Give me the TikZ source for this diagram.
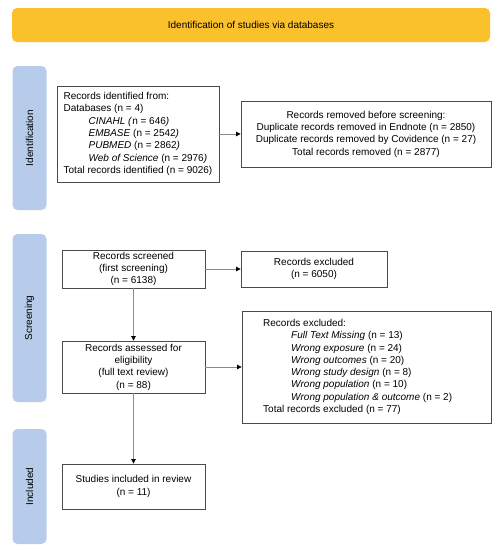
\documentclass[tikz,border=0pt]{standalone}
\usepackage{fontspec}
\setmainfont{Liberation Sans}
\usetikzlibrary{arrows.meta}
\definecolor{gold}{HTML}{FBC12D}
\definecolor{sideblue}{HTML}{B6CCEA}
\definecolor{boxline}{HTML}{4A4A4A}
\definecolor{arrline}{HTML}{8C8C8C}
\begin{document}
\begin{tikzpicture}[x=1pt,y=-1pt,
  every node/.style={font=\fontsize{10}{12.3}\selectfont},
  flowbox/.style={draw=boxline,line width=0.8pt,fill=white,inner sep=0pt,align=center},
  sidebar/.style={fill=sideblue,rounded corners=5pt,inner sep=0pt},
  flowarrow/.style={draw=arrline,line width=0.7pt,-{Triangle[length=4.5pt,width=4.5pt,fill=black,color=black]}}
]
\useasboundingbox (0,0) rectangle (500,550);
% title
\node[fill=gold,rounded corners=5pt,minimum width=478pt,minimum height=34pt,inner sep=0pt] (title) at (251,25) {Identification of studies via databases};
% side bars
\node[sidebar,minimum width=34pt,minimum height=144pt] (sideid) at (29.5,138) {};
\node[rotate=90] (sideidtext) at (sideid.center) {Identification};
\node[sidebar,minimum width=34pt,minimum height=168pt] (sidescr) at (29.5,318) {};
\node[rotate=90] (sidescrtext) at (sidescr.center) {Screening};
\node[sidebar,minimum width=34pt,minimum height=115pt] (sideinc) at (29.5,486.5) {};
\node[rotate=90] (sideinctext) at (sideinc.center) {Included};
% boxes
\node[flowbox,minimum width=162pt,minimum height=96pt] (ident) at (138,134) {%
\begin{tabular}{@{}l@{}}
Records identified from:\\
Databases (n = 4)\\
\hspace*{25pt}\textit{CINAHL (}n = 646\textit{)}\\
\hspace*{25pt}\textit{EMBASE} (n = 2542\textit{)}\\
\hspace*{25pt}\textit{PUBMED} (n = 2862\textit{)}\\
\hspace*{25pt}\textit{Web of Science} (n = 2976\textit{)}\\
Total records identified (n = 9026)
\end{tabular}};
\node[flowbox,minimum width=250pt,minimum height=66pt] (removed) at (366,134) {Records removed before screening:\\
Duplicate records removed in Endnote (n = 2850)\\
Duplicate records removed by Covidence (n = 27)\\
Total records removed (n = 2877)};
\node[flowbox,minimum width=143pt,minimum height=38pt] (screened) at (133.5,269) {Records screened\\(first screening)\\(n = 6138)};
\node[flowbox,minimum width=146pt,minimum height=36pt] (excl1) at (314,269) {Records excluded\\(n = 6050)};
\node[flowbox,minimum width=143pt,minimum height=52pt] (assessed) at (133.5,367) {Records assessed for\\eligibility\\(full text review)\\(n = 88)};
\node[flowbox,minimum width=249pt,minimum height=112pt] (excl2) at (366.5,367) {};
\node[anchor=west,inner sep=0pt,align=left] (excl2text) at (263,367) {%
\begin{tabular}{@{}l@{}}
Records excluded:\\
\hspace*{28pt}\textit{Full Text Missing} (n = 13)\\
\hspace*{28pt}\textit{Wrong exposure} (n = 24)\\
\hspace*{28pt}\textit{Wrong outcomes} (n = 20)\\
\hspace*{28pt}\textit{Wrong study design} (n = 8)\\
\hspace*{28pt}\textit{Wrong population} (n = 10)\\
\hspace*{28pt}\textit{Wrong population \& outcome} (n = 2)\\
Total records excluded (n = 77)
\end{tabular}};
\node[flowbox,minimum width=143pt,minimum height=45pt] (included) at (133.5,486.5) {Studies included in review\\(n = 11)};
% arrows
\draw[flowarrow] (ident) -- (removed);
\draw[flowarrow] (screened) -- (excl1);
\draw[flowarrow] (screened) -- (assessed);
\draw[flowarrow] (assessed) -- (excl2);
\draw[flowarrow] (assessed) -- (included);
\end{tikzpicture}
\end{document}
